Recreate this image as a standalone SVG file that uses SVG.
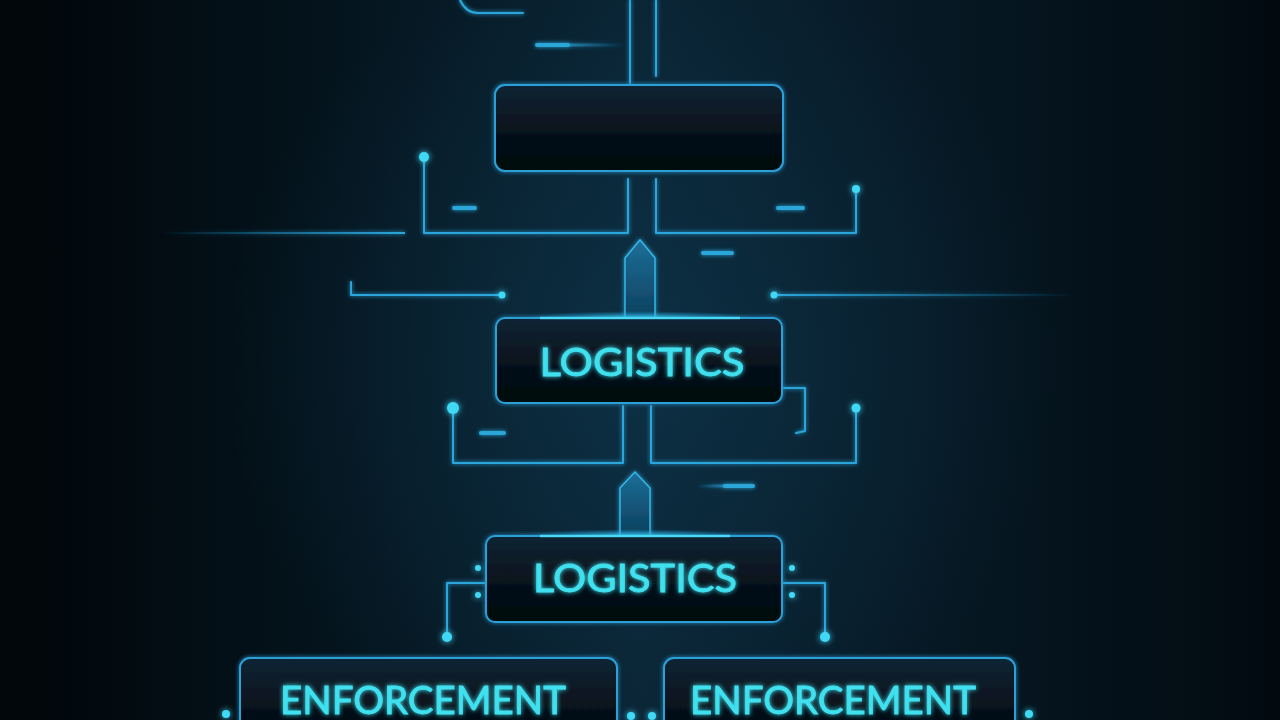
<svg xmlns="http://www.w3.org/2000/svg" width="1280" height="720" viewBox="0 0 1280 720">
<defs>
<linearGradient id="bgH" x1="0" y1="0" x2="1" y2="0">
<stop offset="0" stop-color="#010609"/>
<stop offset="0.25" stop-color="#04131c"/>
<stop offset="0.5" stop-color="#0a2434"/>
<stop offset="0.75" stop-color="#061722"/>
<stop offset="1" stop-color="#020a10"/>
</linearGradient>
<radialGradient id="bgR" cx="640" cy="360" r="420" gradientUnits="userSpaceOnUse">
<stop offset="0" stop-color="#0f3a52" stop-opacity="0.55"/>
<stop offset="1" stop-color="#0f3a52" stop-opacity="0"/>
</radialGradient>
<linearGradient id="boxFill" x1="0" y1="0" x2="0" y2="1">
<stop offset="0" stop-color="#0d2533"/>
<stop offset="0.6" stop-color="#061019"/>
<stop offset="1" stop-color="#02070b"/>
</linearGradient>
<linearGradient id="fadeL233" gradientUnits="userSpaceOnUse" x1="160" y1="0" x2="405" y2="0">
<stop offset="0" stop-color="#1e8fc4" stop-opacity="0"/>
<stop offset="1" stop-color="#2ba6dc" stop-opacity="1"/>
</linearGradient>
<linearGradient id="fadeR295" gradientUnits="userSpaceOnUse" x1="774" y1="0" x2="1075" y2="0">
<stop offset="0" stop-color="#2ba6dc" stop-opacity="1"/>
<stop offset="1" stop-color="#1e8fc4" stop-opacity="0"/>
</linearGradient>
<linearGradient id="fadeR45" gradientUnits="userSpaceOnUse" x1="568" y1="0" x2="625" y2="0">
<stop offset="0" stop-color="#2ba6dc" stop-opacity="0.6"/>
<stop offset="1" stop-color="#1e8fc4" stop-opacity="0"/>
</linearGradient>
<linearGradient id="fadeL486" gradientUnits="userSpaceOnUse" x1="697" y1="0" x2="725" y2="0">
<stop offset="0" stop-color="#1e8fc4" stop-opacity="0"/>
<stop offset="1" stop-color="#2ba6dc" stop-opacity="0.6"/>
</linearGradient>
<linearGradient id="arrowFill" x1="0" y1="0" x2="0" y2="1">
<stop offset="0" stop-color="#1c6f99"/>
<stop offset="1" stop-color="#0d3f5c"/>
</linearGradient>
<radialGradient id="topGlow" cx="0.5" cy="0.5" r="0.5">
<stop offset="0" stop-color="#3fe6ff" stop-opacity="0.9"/>
<stop offset="1" stop-color="#1aa0e0" stop-opacity="0"/>
</radialGradient>
<filter id="glow" x="-50%" y="-50%" width="200%" height="200%">
<feGaussianBlur stdDeviation="3" result="b"/>
<feMerge><feMergeNode in="b"/><feMergeNode in="SourceGraphic"/></feMerge>
</filter>
<filter id="softglow" x="-20%" y="-20%" width="140%" height="140%">
<feGaussianBlur stdDeviation="2" result="b"/>
<feMerge><feMergeNode in="b"/><feMergeNode in="SourceGraphic"/></feMerge>
</filter>
<filter id="textglow" x="-10%" y="-30%" width="120%" height="160%">
<feGaussianBlur stdDeviation="2.5" result="b"/>
<feMerge><feMergeNode in="b"/><feMergeNode in="SourceGraphic"/></feMerge>
</filter>
<style>
.ln{fill:none;stroke:#2ba6dc;stroke-width:2;stroke-linecap:round;stroke-linejoin:round}
.dash{stroke:#2aa7d8;stroke-width:4;stroke-linecap:round}
.dot{fill:#3fd9f5}
.box{fill:url(#boxFill);stroke:#2b9fd8;stroke-width:2}
.lbl{font-family:Lato,"Noto Sans","Liberation Sans",sans-serif;font-weight:400;fill:#3fe0ef;stroke:#3fe0ef;stroke-width:0.8;text-anchor:middle}
.arrow{fill:url(#arrowFill);stroke:#35b6e8;stroke-width:1.5}
</style>
</defs>

<rect x="0" y="0" width="1280" height="720" fill="url(#bgH)"/>
<rect x="0" y="0" width="1280" height="720" fill="url(#bgR)"/>

<g id="connectors" filter="url(#softglow)">
  <path class="ln" d="M460 0 Q466 13 478 13 L523 13"/>
  <line class="ln" x1="630" y1="0" x2="630" y2="84"/>
  <line class="ln" x1="656" y1="0" x2="656" y2="76"/>
  <line class="dash" x1="537" y1="45" x2="568" y2="45"/>
  <line x1="568" y1="45" x2="625" y2="45" stroke="url(#fadeR45)" stroke-width="3"/>
  <path class="ln" d="M628 179 L628 233 L424 233 L424 158"/>
  <path class="ln" d="M656 179 L656 233 L856 233 L856 190"/>
  <line x1="160" y1="233" x2="405" y2="233" stroke="url(#fadeL233)" stroke-width="2"/>
  <line class="dash" x1="454" y1="208" x2="475" y2="208"/>
  <line class="dash" x1="778" y1="208" x2="803" y2="208"/>
  <line class="dash" x1="703" y1="253" x2="732" y2="253" stroke-width="3"/>
  <path class="ln" d="M351 282 L351 295 L502 295"/>
  <line x1="774" y1="295" x2="1075" y2="295" stroke="url(#fadeR295)" stroke-width="2"/>
  <path class="ln" d="M782 388 L805 388 L805 431 L796 433" stroke-width="1.5"/>
  <path class="ln" d="M623 406 L623 463 L453 463 L453 409"/>
  <path class="ln" d="M651 406 L651 463 L856 463 L856 409"/>
  <line class="dash" x1="481" y1="433" x2="504" y2="433" stroke-width="3"/>
  <line class="dash" x1="725" y1="486" x2="753" y2="486" stroke-width="3"/>
  <line x1="697" y1="486" x2="725" y2="486" stroke="url(#fadeL486)" stroke-width="3"/>
  <path class="ln" d="M486 583 L447 583 L447 636"/>
  <path class="ln" d="M782 583 L825 583 L825 636"/>
</g>

<g id="dots" filter="url(#glow)">
  <circle class="dot" cx="424" cy="157" r="5"/>
  <circle class="dot" cx="856" cy="189" r="4"/>
  <circle class="dot" cx="502" cy="295" r="3.5"/>
  <circle class="dot" cx="774" cy="295" r="3.5"/>
  <circle class="dot" cx="453" cy="408" r="6"/>
  <circle class="dot" cx="856" cy="408" r="4.5"/>
  <circle class="dot" cx="478" cy="568" r="3"/>
  <circle class="dot" cx="478" cy="595" r="3"/>
  <circle class="dot" cx="792" cy="568" r="3"/>
  <circle class="dot" cx="792" cy="595" r="3"/>
  <circle class="dot" cx="447" cy="637" r="5"/>
  <circle class="dot" cx="825" cy="637" r="5"/>
  <circle class="dot" cx="226" cy="714" r="4"/>
  <circle class="dot" cx="631" cy="716" r="4"/>
  <circle class="dot" cx="652" cy="716" r="4"/>
  <circle class="dot" cx="1029" cy="714" r="4"/>
</g>

<g id="arrow1" filter="url(#softglow)">
  <path class="arrow" d="M625 320 L625 258 L640 240 L655 258 L655 320 Z"/>
</g>
<g id="arrow2" filter="url(#softglow)">
  <path class="arrow" d="M620 536 L620 488 L635 472 L650 488 L650 536 Z"/>
</g>

<g id="box1">
  <rect class="box" x="495" y="85" width="288" height="86" rx="10" filter="url(#softglow)"/>
</g>

<g id="box2">
  <ellipse cx="640" cy="318" rx="120" ry="7" fill="url(#topGlow)"/>
  <rect class="box" x="496" y="318" width="286" height="85" rx="9" filter="url(#softglow)"/>
  <line x1="540" y1="318" x2="740" y2="318" stroke="#4fe8ff" stroke-width="2.5" opacity="0.8"/>
  <text class="lbl" x="642" y="376" font-size="39" textLength="205" lengthAdjust="spacingAndGlyphs" filter="url(#textglow)">LOGISTICS</text>
</g>

<g id="box3">
  <ellipse cx="634" cy="536" rx="115" ry="7" fill="url(#topGlow)"/>
  <rect class="box" x="486" y="536" width="296" height="86" rx="9" filter="url(#softglow)"/>
  <line x1="540" y1="536" x2="730" y2="536" stroke="#4fe8ff" stroke-width="2.5" opacity="0.8"/>
  <text class="lbl" x="635" y="592" font-size="39" textLength="204" lengthAdjust="spacingAndGlyphs" filter="url(#textglow)">LOGISTICS</text>
</g>

<g id="box4">
  <rect class="box" x="240" y="658" width="377" height="90" rx="10" filter="url(#softglow)"/>
  <text class="lbl" x="423" y="714" font-size="38" textLength="286" lengthAdjust="spacingAndGlyphs" filter="url(#textglow)">ENFORCEMENT</text>
</g>

<g id="box5">
  <rect class="box" x="664" y="658" width="351" height="90" rx="10" filter="url(#softglow)"/>
  <text class="lbl" x="833" y="714" font-size="38" textLength="286" lengthAdjust="spacingAndGlyphs" filter="url(#textglow)">ENFORCEMENT</text>
</g>
</svg>
